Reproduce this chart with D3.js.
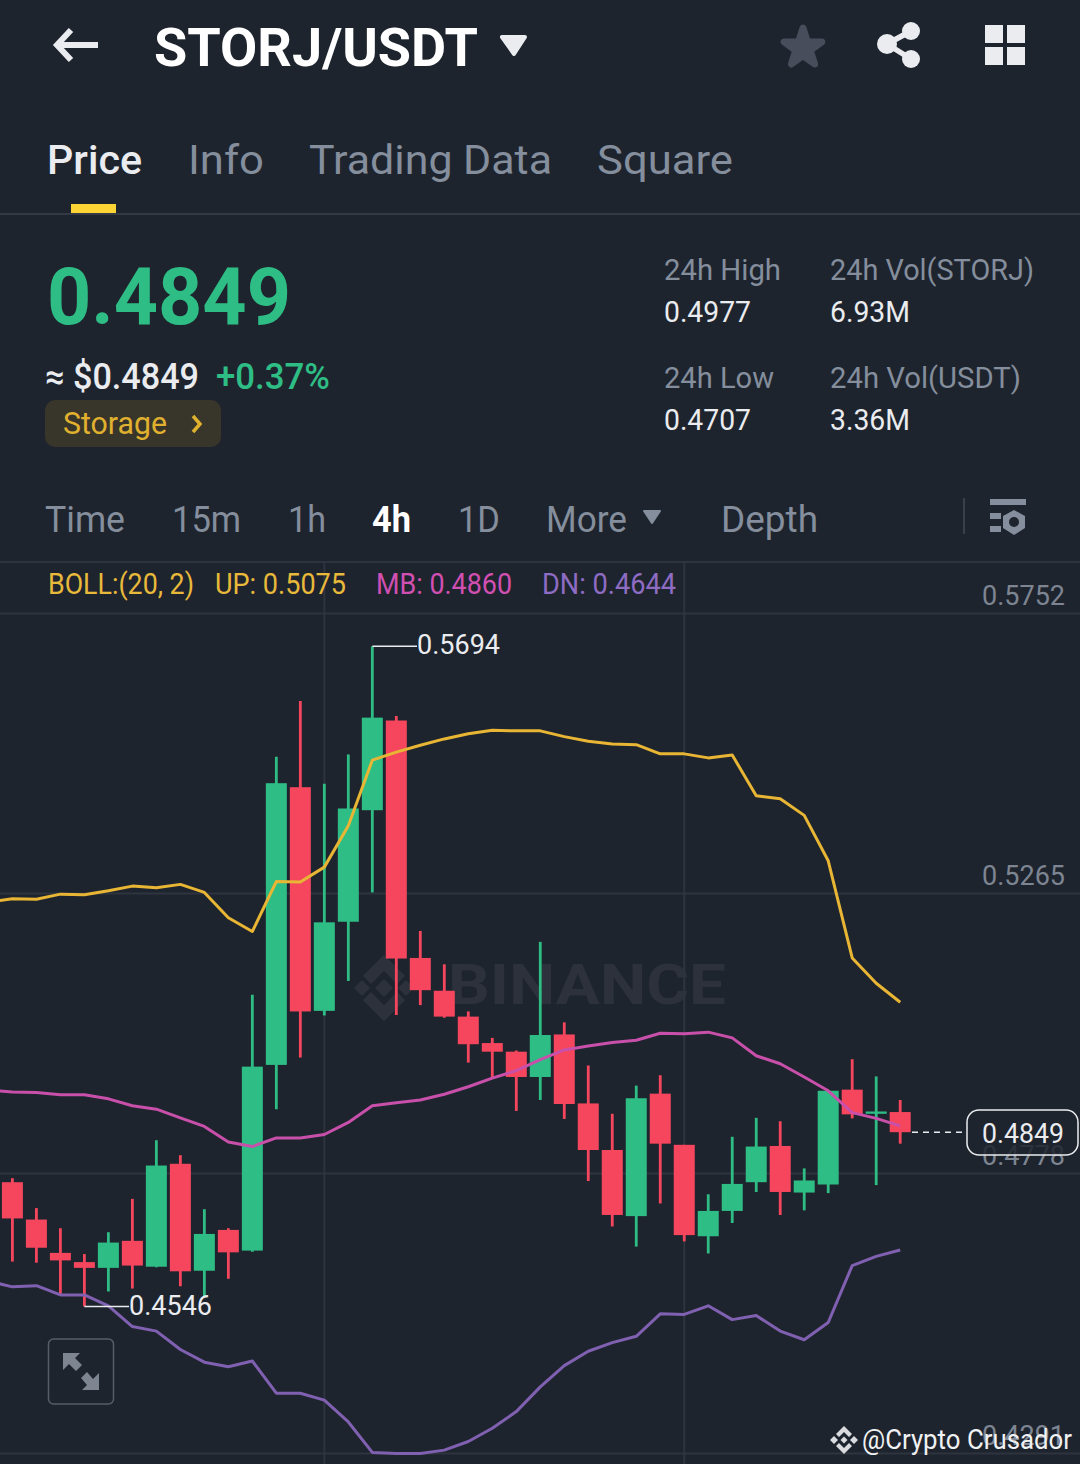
<!DOCTYPE html>
<html>
<head>
<meta charset="utf-8">
<title>STORJ/USDT</title>
<script src="https://cdn.jsdelivr.net/npm/d3@7/dist/d3.min.js"></script>
<style>
  html, body { margin: 0; padding: 0; background: #1e242e; }
  svg { display: block; }
  text { font-family: Roboto, "Noto Sans", sans-serif; }
</style>
</head>
<body>
<div id="chart"></div>
<script>
// 4h candles, left to right
var open  = [.4762,.4697,.4639,.4623,.4613,.4660,.4615,.4794,.4608,.4679,.4643,.4966,.5449,.5060,.5215,.5409,.5565,.5152,.5095,.5050,.5004,.4989,.4945,.5019,.4899,.4818,.4703,.4916,.4827,.4668,.4712,.4762,.4825,.4744,.4758,.4923,.4881,.4884];
var high  = [.4769,.4717,.4682,.4637,.4675,.4733,.4835,.4809,.4715,.4682,.5088,.5502,.5599,.5455,.5506,.5694,.5573,.5199,.5141,.5059,.5013,.4991,.5180,.5040,.4965,.4881,.4930,.4948,.4827,.4741,.4841,.4874,.4868,.4786,.4921,.4976,.4946,.4905];
var low   = [.4624,.4622,.4566,.4546,.4572,.4577,.4614,.4581,.4563,.4594,.4641,.4889,.4979,.5052,.5112,.5266,.5053,.5070,.5048,.4970,.4943,.4886,.4905,.4872,.4764,.4685,.4650,.4725,.4659,.4638,.4691,.4745,.4705,.4713,.4743,.4873,.4757,.4829];
var close = [.4699,.4648,.4626,.4613,.4657,.4617,.4791,.4607,.4672,.4640,.4963,.5456,.5059,.5214,.5412,.5570,.5151,.5096,.5050,.5002,.4989,.4945,.5018,.4898,.4818,.4705,.4908,.4829,.4670,.4712,.4759,.4824,.4745,.4765,.4921,.4880,.4885,.4849];

// bollinger bands, these start one candle before the first visible one
var bollUp = [.5249,.5255,.5254,.5263,.5262,.5269,.5277,.5274,.5280,.5266,.5222,.5198,.5285,.5284,.5310,.5382,.5496,.5510,.5522,.5533,.5542,.5548,.5547,.5547,.5537,.5529,.5524,.5523,.5507,.5507,.5500,.5505,.5434,.5429,.5400,.5321,.5152,.5108,.5075];
var bollMb = [.4922,.4919,.4918,.4914,.4914,.4907,.4895,.4889,.4874,.4859,.4832,.4824,.4839,.4839,.4845,.4866,.4895,.4900,.4905,.4915,.4928,.4943,.4956,.4975,.4992,.4999,.5005,.5009,.5021,.5020,.5023,.5013,.4982,.4968,.4945,.4921,.4883,.4873,.4860];
var bollDn = [.4590,.4580,.4582,.4566,.4566,.4547,.4511,.4503,.4471,.4449,.4441,.4451,.4395,.4395,.4383,.4345,.4292,.4290,.4290,.4296,.4311,.4334,.4363,.4406,.4443,.4468,.4483,.4494,.4533,.4532,.4547,.4523,.4530,.4503,.4488,.4518,.4617,.4633,.4644];

var priceTicks = [0.5752, 0.5265, 0.4778, 0.4291];
var timeTicks = [13, 28];
var lastPrice = 0.4849;
var maxPrice = 0.5694, maxIndex = 15;
var minPrice = 0.4546, minIndex = 3;

var bg = '#1e242e', gridColor = '#2e343f', grey = '#848e9c', white = '#eaecef';
var green = '#2ebd85', red = '#f6465d';

var svg = d3.select('#chart').append('svg').attr('width', 1080).attr('height', 1464);
svg.append('rect').attr('width', 1080).attr('height', 1464).attr('fill', bg);

var x = d3.scaleLinear().domain([0, 37]).range([12.4, 900.2]);
var y = d3.scaleLinear().domain([0.5752, 0.4291]).range([613, 1453]);

// text squeezed to the width it has in the screenshot
function label(str, left, right, base, size, color, weight) {
  return svg.append('text')
    .attr('x', left).attr('y', base)
    .attr('font-size', size)
    .attr('font-weight', weight || 400)
    .attr('fill', color)
    .attr('textLength', right - left)
    .attr('lengthAdjust', 'spacingAndGlyphs')
    .text(str);
}

function hline(y0, color) {
  svg.append('line').attr('x1', 0).attr('x2', 1080).attr('y1', y0).attr('y2', y0)
    .attr('stroke', color).attr('stroke-width', 2);
}

// ---- header
svg.append('path').attr('d', 'M71 30L57 45L71 60M57 45H98')
  .attr('fill', 'none').attr('stroke', white).attr('stroke-width', 6);
label('STORJ/USDT', 154, 478, 66, 54, '#fff', 700);
svg.append('path').attr('d', 'M502 37H525L514 54Z').attr('fill', white)
  .attr('stroke', white).attr('stroke-width', 4).attr('stroke-linejoin', 'round');

svg.append('path').attr('d', d3.symbol(d3.symbolStar, 440)())
  .attr('transform', 'translate(803,48)').attr('fill', '#474d5a')
  .attr('stroke', '#474d5a').attr('stroke-width', 7).attr('stroke-linejoin', 'round');

svg.append('path').attr('d', 'M911 31L887 44L911 59').attr('fill', 'none')
  .attr('stroke', white).attr('stroke-width', 5.5);
[[887, 44, 10], [911, 31, 9], [911, 59, 9]].forEach(function(c) {
  svg.append('circle').attr('cx', c[0]).attr('cy', c[1]).attr('r', c[2]).attr('fill', white);
});
[[985, 25], [1007, 25], [985, 47], [1007, 47]].forEach(function(c) {
  svg.append('rect').attr('x', c[0]).attr('y', c[1]).attr('width', 18).attr('height', 18).attr('fill', white);
});

// ---- tabs
label('Price', 47, 142, 174, 41, white, 500);
label('Info', 188, 264, 174, 41, grey);
label('Trading Data', 309, 552, 174, 41, grey);
label('Square', 597, 733, 174, 41, grey);
svg.append('rect').attr('x', 71).attr('y', 204).attr('width', 45).attr('height', 9).attr('fill', '#fcd535');
hline(214, '#333a45');

// ---- price block
label('0.4849', 47, 291, 324, 80, green, 700);
label('\u2248 $0.4849', 45, 199, 389, 36, white, 500);
label('+0.37%', 216, 330, 389, 36, green, 500);
svg.append('rect').attr('x', 45).attr('y', 400).attr('width', 176).attr('height', 47).attr('rx', 10).attr('fill', '#38352a');
label('Storage', 63, 167, 434, 31, '#e0b12f');
svg.append('path').attr('d', 'M193 416L200 424L193 432').attr('fill', 'none').attr('stroke', '#e0b12f').attr('stroke-width', 3.5);

label('24h High', 664, 781, 280, 30, grey);
label('0.4977', 664, 751, 322, 30, white);
label('24h Vol(STORJ)', 830, 1034, 280, 30, grey);
label('6.93M', 830, 910, 322, 30, white);
label('24h Low', 664, 774, 388, 30, grey);
label('0.4707', 664, 751, 430, 30, white);
label('24h Vol(USDT)', 830, 1021, 388, 30, grey);
label('3.36M', 830, 910, 430, 30, white);

// ---- interval row
label('Time', 45, 125, 532, 36, grey);
label('15m', 172, 241, 532, 36, grey);
label('1h', 288, 326, 532, 36, grey);
label('4h', 372, 411, 532, 36, '#fff', 700);
label('1D', 458, 500, 532, 36, grey);
label('More', 546, 627, 532, 36, grey);
svg.append('path').attr('d', 'M644 511H660L652 523Z').attr('fill', grey).attr('stroke', grey).attr('stroke-width', 2).attr('stroke-linejoin', 'round');
label('Depth', 721, 818, 532, 36, grey);
svg.append('line').attr('x1', 964).attr('x2', 964).attr('y1', 498).attr('y2', 534).attr('stroke', '#39404b').attr('stroke-width', 2);
svg.append('rect').attr('x', 990).attr('y', 499).attr('width', 36).attr('height', 6).attr('fill', grey);
svg.append('rect').attr('x', 990).attr('y', 513).attr('width', 11).attr('height', 6).attr('fill', grey);
svg.append('rect').attr('x', 990).attr('y', 526).attr('width', 11).attr('height', 6).attr('fill', grey);
svg.append('path').attr('d', 'M1014 510L1025 516V528L1014 535L1003 528V516Z').attr('fill', grey);
svg.append('circle').attr('cx', 1014).attr('cy', 522).attr('r', 5).attr('fill', bg);
hline(562, gridColor);

// ---- watermark
var wm = '#2c313c';
svg.append('g').attr('transform', 'translate(384,988)').attr('fill', wm).selectAll('path')
  .data(['M0 -33L21 -12L13 -4L0 -17L-13 -4L-21 -12Z', 'M0 33L21 12L13 4L0 17L-13 4L-21 12Z',
         'M-30 0L-22 -8L-14 0L-22 8Z', 'M30 0L22 -8L14 0L22 8Z', 'M0 -9L9 0L0 9L-9 0Z'])
  .join('path').attr('d', function(d) { return d; });
label('BINANCE', 448, 726, 1004, 56, wm, 700);

// ---- price axis, its ticks are the horizontal grid
var axis = svg.append('g').attr('transform', 'translate(1080,0)')
  .call(d3.axisLeft(y).tickValues(priceTicks).tickSize(1080).tickFormat(d3.format('.4f')));
axis.select('.domain').remove();
axis.selectAll('line').attr('stroke', gridColor).attr('stroke-width', 2);
axis.selectAll('text')
  .attr('x', -98).attr('y', -9).attr('dy', 0)
  .attr('text-anchor', 'start')
  .attr('font-family', 'Roboto, "Noto Sans", sans-serif')
  .attr('font-size', 28)
  .attr('fill', '#7d8592')
  .attr('textLength', 83)
  .attr('lengthAdjust', 'spacingAndGlyphs');

svg.selectAll('.vgrid').data(timeTicks).join('line')
  .attr('class', 'vgrid')
  .attr('x1', function(d) { return x(d); }).attr('x2', function(d) { return x(d); })
  .attr('y1', 562).attr('y2', 1464)
  .attr('stroke', gridColor).attr('stroke-width', 2);

// ---- candles
var bodyWidth = 21;
var candles = svg.append('g').selectAll('g').data(d3.range(open.length)).join('g');
function candleColor(i) { return close[i] >= open[i] ? green : red; }

candles.append('line')
  .attr('x1', function(i) { return x(i); }).attr('x2', function(i) { return x(i); })
  .attr('y1', function(i) { return y(high[i]); })
  .attr('y2', function(i) { return y(low[i]); })
  .attr('stroke', candleColor).attr('stroke-width', 2.8);

candles.append('rect')
  .attr('x', function(i) { return x(i) - bodyWidth / 2; })
  .attr('width', bodyWidth)
  .attr('y', function(i) { return y(Math.max(open[i], close[i])); })
  .attr('height', function(i) { return Math.abs(y(open[i]) - y(close[i])); })
  .attr('fill', candleColor);

// ---- bollinger lines
var bandLine = d3.line()
  .x(function(d, i) { return x(i - 1); })
  .y(function(d) { return y(d); });

[[bollUp, '#e8b634'], [bollMb, '#c850aa'], [bollDn, '#8060b0']].forEach(function(b) {
  svg.append('path').attr('d', bandLine(b[0]))
    .attr('fill', 'none').attr('stroke', b[1]).attr('stroke-width', 3).attr('stroke-linejoin', 'round');
});

label('BOLL:(20, 2)', 48, 194, 594, 29, '#e8b93a');
label('UP: 0.5075', 215, 346, 594, 29, '#e8b93a');
label('MB: 0.4860', 376, 512, 594, 29, '#d24fb2');
label('DN: 0.4644', 542, 676, 594, 29, '#8e6cc4');

// ---- max / min callouts
svg.append('line').attr('x1', x(maxIndex)).attr('x2', 417).attr('y1', y(maxPrice)).attr('y2', y(maxPrice)).attr('stroke', white).attr('stroke-width', 1.5);
label('0.5694', 417, 500, y(maxPrice) + 8, 28, white);
svg.append('line').attr('x1', x(minIndex)).attr('x2', 129).attr('y1', y(minPrice)).attr('y2', y(minPrice)).attr('stroke', white).attr('stroke-width', 1.5);
label('0.4546', 129, 212, y(minPrice) + 9, 28, white);

// ---- last price
svg.append('line').attr('x1', 912).attr('x2', 966).attr('y1', y(lastPrice)).attr('y2', y(lastPrice))
  .attr('stroke', white).attr('stroke-width', 1.5).attr('stroke-dasharray', '6,5');
svg.append('rect').attr('x', 967).attr('y', 1110).attr('width', 111).attr('height', 45).attr('rx', 12)
  .attr('fill', bg).attr('fill-opacity', 0.85).attr('stroke', white).attr('stroke-width', 1.5);
label('0.4849', 982, 1064, 1143, 28, white);

// ---- expand button
svg.append('rect').attr('x', 48.5).attr('y', 1339).attr('width', 65).attr('height', 65).attr('rx', 5)
  .attr('fill', 'none').attr('stroke', '#565d69').attr('stroke-width', 1.5);
svg.append('path').attr('d', 'M63 1353H80L75 1358L82 1365L76 1371L69 1364L63 1370Z').attr('fill', '#7d8591');
svg.append('path').attr('d', 'M99 1390H82L87 1385L81 1378L87 1372L93 1379L99 1373Z').attr('fill', '#7d8591');

// ---- author tag
svg.append('g').attr('transform', 'translate(844,1440)').attr('fill', '#d9dbde').selectAll('path')
  .data(['M0 -14L8 -6L5 -3L0 -8L-5 -3L-8 -6Z', 'M0 14L8 6L5 3L0 8L-5 3L-8 6Z',
         'M-14 0L-10 -4L-6 0L-10 4Z', 'M14 0L10 -4L6 0L10 4Z', 'M0 -3.5L3.5 0L0 3.5L-3.5 0Z'])
  .join('path').attr('d', function(d) { return d; });
label('@Crypto Crusador', 862, 1072, 1449, 27, '#f0f1f2');
</script>
</body>
</html>
